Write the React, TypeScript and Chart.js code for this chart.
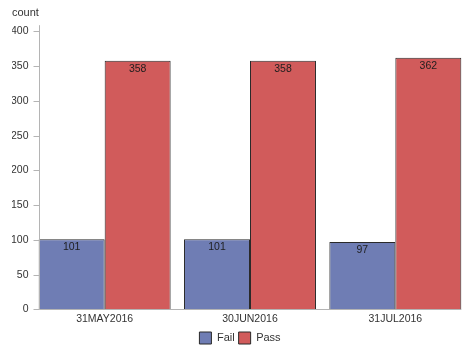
import React, { useEffect, useRef } from "react";
import { Chart, registerables } from "chart.js";

Chart.register(...registerables);

const categories = ["31MAY2016", "30JUN2016", "31JUL2016"];
const failValues = [101, 101, 97];
const passValues = [358, 358, 362];
const seriesNames = ["Fail", "Pass"];
const yTickValues = [0, 50, 100, 150, 200, 250, 300, 350, 400];
const yAxisTitle = "count";

const FONT = "'Liberation Sans', Arial, Helvetica, sans-serif";
const TEXT = "#333333";
const AXIS = "#b4b4b4";

const sasPlugin = {
  id: "sasAxes",
  afterDatasetsDraw(chart: any) {
    const ctx = chart.ctx;
    const area = chart.chartArea;
    let left = Infinity;
    let right = -Infinity;
    chart.data.datasets.forEach((_: any, i: number) => {
      chart.getDatasetMeta(i).data.forEach((bar: any) => {
        left = Math.min(left, bar.x - bar.width / 2);
        right = Math.max(right, bar.x + bar.width / 2);
      });
    });
    const yScale = chart.scales.y;
    ctx.save();
    ctx.strokeStyle = AXIS;
    ctx.lineWidth = 1;
    const lx = Math.round(left) + 0.5;
    ctx.beginPath();
    ctx.moveTo(lx, area.top);
    ctx.lineTo(lx, area.bottom);
    ctx.stroke();
    yScale.ticks.forEach((t: any) => {
      const py = Math.round(yScale.getPixelForValue(t.value)) + 0.5;
      ctx.beginPath();
      ctx.moveTo(lx - 6, py);
      ctx.lineTo(lx, py);
      ctx.stroke();
    });
    ctx.beginPath();
    ctx.moveTo(lx, Math.round(area.bottom) + 0.5);
    ctx.lineTo(right, Math.round(area.bottom) + 0.5);
    ctx.stroke();

    // value labels inside bar tops
    ctx.fillStyle = "#1e1e1e";
    ctx.font = `10.5px ${FONT}`;
    ctx.textAlign = "center";
    ctx.textBaseline = "middle";
    chart.data.datasets.forEach((ds: any, i: number) => {
      chart.getDatasetMeta(i).data.forEach((bar: any, j: number) => {
        ctx.fillText(String(ds.data[j]), bar.x, bar.y + 8);
      });
    });
    ctx.restore();
  },
};

export default function App() {
  const ref = useRef<HTMLCanvasElement | null>(null);

  useEffect(() => {
    document.body.style.margin = "0";
    if (!ref.current) return;
    const chart = new Chart(ref.current, {
      type: "bar",
      data: {
        labels: categories,
        datasets: [
          {
            label: seriesNames[0],
            data: failValues,
            backgroundColor: "#6f7db4",
            borderColor: "#2a2a2a",
            borderWidth: 1,
          },
          {
            label: seriesNames[1],
            data: passValues,
            backgroundColor: "#d15b5b",
            borderColor: "#2a2a2a",
            borderWidth: 1,
          },
        ],
      },
      options: {
        responsive: false,
        animation: false,
        layout: { padding: { left: 12, right: 6, top: 0, bottom: 1 } },
        datasets: {
          bar: { categoryPercentage: 0.908, barPercentage: 1 },
        },
        scales: {
          x: {
            grid: { display: false, drawTicks: false, tickLength: 0 },
            border: { display: false },
            ticks: {
              color: TEXT,
              font: { family: FONT, size: 10.5 },
              padding: 3,
              maxRotation: 0,
            },
          },
          y: {
            min: 0,
            max: 409,
            grid: { display: false, drawTicks: false, tickLength: 0 },
            border: { display: false },
            afterBuildTicks: (scale: any) => {
              scale.ticks = yTickValues.map((v) => ({ value: v }));
            },
            afterFit: (scale: any) => {
              scale.width = 20;
            },
            ticks: {
              color: TEXT,
              font: { family: FONT, size: 10.5 },
              padding: 3.5,
            },
          },
        },
        plugins: {
          title: {
            display: true,
            text: yAxisTitle,
            align: "start",
            color: TEXT,
            font: { family: FONT, size: 11, weight: "normal" },
            padding: { top: 6, bottom: 6 },
          },
          legend: {
            position: "bottom",
            labels: {
              boxWidth: 12,
              boxHeight: 12,
              color: TEXT,
              font: { family: FONT, size: 11 },
              padding: 4,
            },
          },
          tooltip: { enabled: false },
        },
      },
      plugins: [sasPlugin],
    });
    return () => chart.destroy();
  }, []);

  return (
    <div style={{ width: 474, height: 355 }}>
      <canvas ref={ref} width={474} height={355} style={{ display: "block" }} />
    </div>
  );
}
